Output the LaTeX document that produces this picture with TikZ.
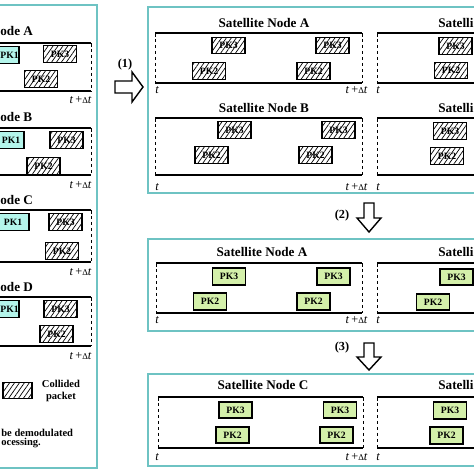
\documentclass[tikz,border=0pt]{standalone}
\usepackage{fontspec}
\setmainfont{Liberation Serif}
\usetikzlibrary{patterns.meta}
\definecolor{panelteal}{RGB}{110,195,195}
\definecolor{pkcyan}{RGB}{180,245,235}
\definecolor{pkgreen}{RGB}{212,240,170}
\newcommand{\tdt}{\textit{t}\,+{\fontsize{5}{5}\selectfont Δ}\textit{t}}

\begin{document}
\begin{tikzpicture}[x=0.02cm,y=-0.02cm,
    panel/.style={draw=panelteal,line width=0.9pt},
    slotline/.style={line width=0.7pt},
    slotside/.style={line width=0.5pt,dash pattern=on 2pt off 1.4pt},
    pkt/.style={draw,line width=0.6pt,minimum width=0.66cm,minimum height=0.33cm,inner sep=0pt,font=\bfseries\fontsize{5.5}{6}\selectfont},
    hatched/.style={pkt,pattern={Lines[angle=55,distance=2.3pt,line width=0.4pt]}},
    good/.style={pkt,fill=pkgreen,line width=0.9pt},
    first/.style={pkt,fill=pkcyan,line width=0.8pt},
    pklabel/.style={font=\bfseries\fontsize{5.5}{6}\selectfont,inner sep=0pt},
    title/.style={font=\bfseries\fontsize{7.5}{9}\selectfont,inner sep=0pt},
    tick/.style={font=\fontsize{7}{8}\selectfont,inner sep=0pt},
    note/.style={font=\bfseries\fontsize{6}{7}\selectfont,inner sep=0pt},
    blockarrow/.style={draw,fill=white,line width=0.8pt,line join=miter}]

    \useasboundingbox (0,0) rectangle (474,474);
    \fill[white] (0,0) rectangle (474,474);
    \clip (0,0) rectangle (474,474);

    % Paneles
    \draw[panel] (-40,5) rectangle (97,468);
    \draw[panel] (148,7) rectangle (560,193);
    \draw[panel] (148,239) rectangle (560,331);
    \draw[panel] (148,374) rectangle (560,466);

    % Ventanas de tiempo (lados punteados)
    \foreach \l/\r/\t/\b in {-40/91/43/91, -40/91/128/175, -40/91/210/262, -40/91/297/346,
        155/362/33/83, 155/362/118/175, 156/362/263/313, 158/363/397/448,
        377/600/33/83, 377/600/118/175, 377/600/263/313, 377/600/397/448} {
        \draw[slotline] (\l,\t) -- (\r,\t) (\l,\b) -- (\r,\b);
        \draw[slotside] (\l,\t) -- (\l,\b) (\r,\t) -- (\r,\b);
    }

    % Panel izquierdo
    \node[title,anchor=west] (tA) at (0,31) {ode A};
    \node[first] (a1) at (2.5,55) {};
    \node[pklabel] (a1t) at (9.5,55) {PK1};
    \node[hatched] (a3) at (60,54) {PK3};
    \node[hatched] (a2) at (41,79) {PK2};
    \node[tick,anchor=east] (ea) at (92,100) {\tdt};

    \node[title,anchor=west] (tB) at (0,117) {ode B};
    \node[first] (b1) at (7.5,140) {};
    \node[pklabel] (b1t) at (11,140) {PK1};
    \node[hatched] (b3) at (66.5,140) {PK3};
    \node[hatched] (b2) at (43.5,166) {PK2};
    \node[tick,anchor=east] (eb) at (92,185) {\tdt};

    \node[title,anchor=west] (tC) at (0,200) {ode C};
    \node[first] (c1) at (12.5,222) {};
    \node[pklabel] (c1t) at (13,222) {PK1};
    \node[hatched] (c3) at (65.5,222) {PK3};
    \node[hatched] (c2) at (62,251) {PK2};
    \node[tick,anchor=east] (ec) at (92,272) {\tdt};

    \node[title,anchor=west] (tD) at (0,287) {ode D};
    \node[first] (d1) at (2.5,309) {};
    \node[pklabel] (d1t) at (9.5,309) {PK1};
    \node[hatched] (d3) at (60.5,309) {PK3};
    \node[hatched] (d2) at (56.5,334) {PK2};
    \node[tick,anchor=east] (ed) at (92,356) {\tdt};

    % Leyenda
    \node[hatched,minimum width=0.58cm] (leg) at (17.5,390.5) {};
    \node[note,align=center] (legtxt) at (61,391) {Collided\\packet};
    \node[note,anchor=west] (n1) at (1,433) {be demodulated};
    \node[note,anchor=west] (n2) at (1,443) {ocessing.};

    % Paso (1): colisiones en A y B
    \node[title] (s1A) at (264,23) {Satellite Node A};
    \node[hatched] (p1a3l) at (228.5,45.5) {PK3};
    \node[hatched] (p1a3r) at (332.5,45.5) {PK3};
    \node[hatched] (p1a2l) at (209,71) {PK2};
    \node[hatched] (p1a2r) at (313.5,71) {PK2};
    \node[title] (s1B) at (264,108) {Satellite Node B};
    \node[hatched] (p1b3l) at (234.5,130) {PK3};
    \node[hatched] (p1b3r) at (338.5,130) {PK3};
    \node[hatched] (p1b2l) at (211.5,155) {PK2};
    \node[hatched] (p1b2r) at (315.5,155) {PK2};
    \node[title,anchor=west] (s1A2) at (438,23) {Satelli};
    \node[hatched] (q1a3) at (455.5,46) {PK3};
    \node[hatched] (q1a2) at (451,70.5) {PK2};
    \node[title,anchor=west] (s1B2) at (438,108) {Satelli};
    \node[hatched] (q1b3) at (450,131) {PK3};
    \node[hatched] (q1b2) at (447,156) {PK2};

    % Paso (2)
    \node[title] (s2A) at (262,252) {Satellite Node A};
    \node[good] (p2a3l) at (229,276.5) {PK3};
    \node[good] (p2a3r) at (333.5,276.5) {PK3};
    \node[good] (p2a2l) at (210,301.5) {PK2};
    \node[good] (p2a2r) at (313.5,301.5) {PK2};
    \node[title,anchor=west] (s2A2) at (438,252) {Satelli};
    \node[good] (q2a3) at (456.5,277) {PK3};
    \node[good] (q2a2) at (433,302) {PK2};

    % Paso (3)
    \node[title] (s3C) at (263,385) {Satellite Node C};
    \node[good] (p3c3l) at (235.5,410) {PK3};
    \node[good] (p3c3r) at (340,410) {PK3};
    \node[good] (p3c2l) at (232.5,435) {PK2};
    \node[good] (p3c2r) at (336.5,435) {PK2};
    \node[title,anchor=west] (s3C2) at (438,385) {Satelli};
    \node[good] (q3c3) at (450,410.5) {PK3};
    \node[good] (q3c2) at (446.5,435.5) {PK2};

    % Marcas de tiempo
    \foreach \y in {90,187,320,457} {
        \node[tick,anchor=west] at (155,\y) {\textit{t}};
        \node[tick,anchor=east] at (368,\y) {\tdt};
        \node[tick,anchor=west] at (376,\y) {\textit{t}};
    }

    % Flechas de bloque
    \draw[blockarrow] (115,81) -- (132,81) -- (132,72) -- (143,87) -- (132,102) -- (132,93) -- (115,93) -- cycle;
    \node[title,font=\bfseries\fontsize{7}{8}\selectfont] (l1) at (125,65) {(1)};
    \draw[blockarrow] (364,203) -- (374,203) -- (374,218) -- (381,218) -- (369,232) -- (357,218) -- (364,218) -- cycle;
    \node[title,font=\bfseries\fontsize{7}{8}\selectfont] (l2) at (342,216) {(2)};
    \draw[blockarrow] (364,343) -- (374,343) -- (374,357) -- (381,357) -- (369,370) -- (357,357) -- (364,357) -- cycle;
    \node[title,font=\bfseries\fontsize{7}{8}\selectfont] (l3) at (342,348) {(3)};
\end{tikzpicture}
\end{document}
